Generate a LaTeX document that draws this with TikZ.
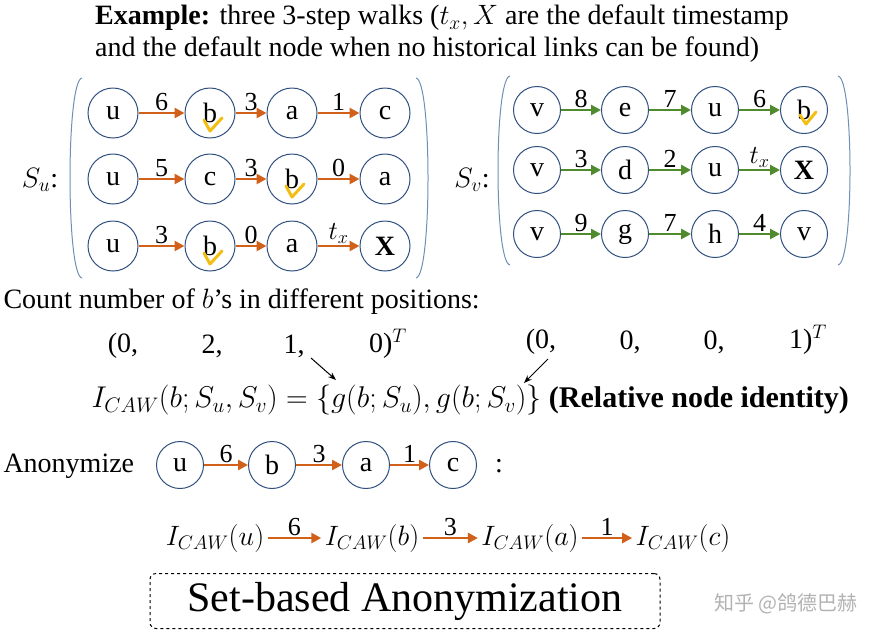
\RequirePackage{fix-cm}
\documentclass[tikz,border=0pt]{standalone}
\usepackage{fontspec}
\setmainfont{Liberation Serif}
\newfontfamily\cjk{Noto Sans CJK SC}
\usetikzlibrary{arrows.meta}
\definecolor{orn}{HTML}{D0601A}
\definecolor{grn}{HTML}{4F8A2C}
\definecolor{brk}{HTML}{6F8FB5}
\definecolor{circ}{HTML}{2F4F7F}
\definecolor{chk}{HTML}{F2BE14}
\begin{document}
\begin{tikzpicture}[x=1pt,y=-1pt,
  vtx/.style={circle,draw=circ,line width=1pt,minimum size=50pt,inner sep=0pt,font=\fontsize{28}{30}\selectfont},
  svtx/.style={vtx,minimum size=47pt},
  oe/.style={draw=orn,line width=2.5pt,-{Triangle[length=10pt,width=10pt]}},
  ge/.style={draw=grn,line width=2.5pt,-{Triangle[length=10pt,width=10pt]}},
  lab/.style={midway,above,inner sep=1pt,font=\fontsize{26}{28}\selectfont},
  txt/.style={font=\fontsize{28}{32}\selectfont},
  chkm/.style={draw=chk,line width=3pt,line cap=round,line join=round}]
\useasboundingbox (0,0) rectangle (874,638);
\node[txt,align=left] (title) at (442,34) {\textbf{Example:} three 3-step walks ($t_x, X$ are the default timestamp\\and the default node when no historical links can be found)};
% brackets
\draw[brk,line width=1pt] (82,78) .. controls (66,80) and (66,276) .. (82,278);
\draw[brk,line width=1pt] (416,78) .. controls (432,80) and (432,276) .. (416,278);
\draw[brk,line width=1pt] (510,76) .. controls (494,78) and (494,263) .. (510,265);
\draw[brk,line width=1pt] (838,76) .. controls (854,78) and (854,263) .. (838,265);
\node[txt] (su) at (40,180) {$S_u$:};
\node[txt] (sv) at (472,180) {$S_v$:};
% left walks
\foreach \r/\y/\a/\b/\c/\d/\la/\lb/\lc in {1/113/u/b/a/c/6/3/1, 2/179/u/c/b/a/5/3/0, 3/246/u/b/a/{\textbf{X}}/3/0/{$t_x$}}{
  \node[vtx] (L\r a) at (113,\y) {\a};
  \node[vtx] (L\r b) at (210,\y) {\b};
  \node[vtx] (L\r c) at (292,\y) {\c};
  \node[vtx] (L\r d) at (385,\y) {\d};
  \draw[oe] (L\r a) -- node[lab]{\la} (L\r b);
  \draw[oe] (L\r b) -- node[lab]{\lb} (L\r c);
  \draw[oe] (L\r c) -- node[lab]{\lc} (L\r d);
}
\foreach \n in {L1b,L2c,L3b}{
  \draw[chkm] ([shift={(-6,7)}]\n.center) -- ([shift={(0,18)}]\n.center) -- ([shift={(12,5)}]\n.center);
}
% right walks
\foreach \r/\y/\a/\b/\c/\d/\la/\lb/\lc in {1/110/v/e/u/b/8/7/6, 2/170/v/d/u/{\textbf{X}}/3/2/{$t_x$}, 3/234/v/g/h/v/9/7/4}{
  \node[svtx] (R\r a) at (537,\y) {\a};
  \node[svtx] (R\r b) at (625,\y) {\b};
  \node[svtx] (R\r c) at (715,\y) {\c};
  \node[svtx] (R\r d) at (804,\y) {\d};
  \draw[ge] (R\r a) -- node[lab]{\la} (R\r b);
  \draw[ge] (R\r b) -- node[lab]{\lb} (R\r c);
  \draw[ge] (R\r c) -- node[lab]{\lc} (R\r d);
}
\draw[chkm] ([shift={(-4,5)}]R1d.center) -- ([shift={(2,14)}]R1d.center) -- ([shift={(12,2)}]R1d.center);
% counts
\node[txt,anchor=west] (count) at (0,302) {Count number of $b$'s in different positions:};
\node[txt] (u1) at (123,346) {(0,};
\node[txt] (u2) at (212,346) {2,};
\node[txt] (u3) at (294,346) {1,};
\node[txt] (u4) at (388,344) {0)$^T$};
\node[txt] (v1) at (541,342) {(0,};
\node[txt] (v2) at (630,342) {0,};
\node[txt] (v3) at (714,342) {0,};
\node[txt] (v4) at (808,340) {1)$^T$};
\node[font=\fontsize{30}{34}\selectfont,anchor=west] (form) at (88,400) {$I_{CAW}(b; S_u, S_v) = \{g(b;S_u), g(b;S_v)\}$ \textbf{(Relative node identity)}};
\coordinate (fa) at (336,380);
\coordinate (fb) at (524,383);
\draw[-{Stealth[length=8pt]},line width=1pt] (311,358) -- (fa);
\draw[-{Stealth[length=8pt]},line width=1pt] (548,359) -- (fb);
% anonymize
\node[txt,anchor=west] (anon) at (0,466) {Anonymize};
\node[svtx] (Aa) at (180,465) {u};
\node[svtx] (Ab) at (272,465) {b};
\node[svtx] (Ac) at (366,465) {a};
\node[svtx] (Ad) at (453,465) {c};
\draw[oe] (Aa) -- node[lab]{6} (Ab);
\draw[oe] (Ab) -- node[lab]{3} (Ac);
\draw[oe] (Ac) -- node[lab]{1} (Ad);
\node[txt] (colon) at (499,466) {:};
\node[txt] (Iu) at (215,538) {$I_{CAW}(u)$};
\node[txt] (Ib) at (372,538) {$I_{CAW}(b)$};
\node[txt] (Ia) at (530,538) {$I_{CAW}(a)$};
\node[txt] (Ic) at (683,538) {$I_{CAW}(c)$};
\draw[oe] (Iu.east) -- node[lab]{6} (Ib.west);
\draw[oe] (Ib.east) -- node[lab]{3} (Ia.west);
\draw[oe] (Ia.east) -- node[lab]{1} (Ic.west);
\node[draw,dashed,rounded corners=6pt,line width=1pt,minimum width=510pt,minimum height=55pt,font=\fontsize{42}{46}\selectfont] (set) at (405,601) {Set-based Anonymization};
\node[font=\cjk\fontsize{20}{22}\selectfont,text=gray!60] (wm) at (786,604) {知乎 @鸽德巴赫};
\end{tikzpicture}
\end{document}
